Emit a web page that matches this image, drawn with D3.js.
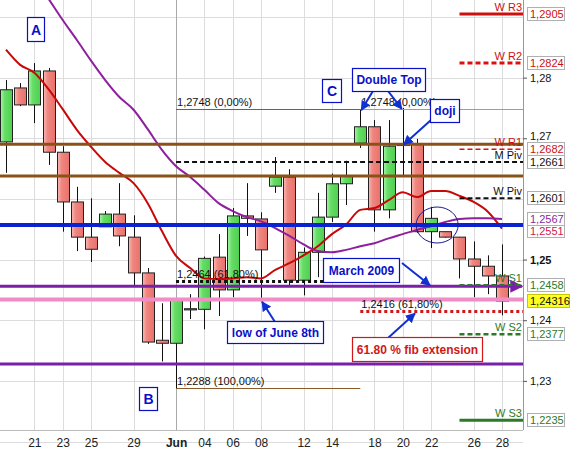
<!DOCTYPE html>
<html><head><meta charset="utf-8">
<script src="https://cdn.jsdelivr.net/npm/d3@7"></script>
<style>
html,body{margin:0;padding:0;background:#fff;}
svg{display:block;font-family:"Liberation Sans",Arial,sans-serif;}
</style></head>
<body><svg id="c" width="571" height="449"></svg>
<script>
// ---------- DATA ----------
const dates = ["2012-05-18","2012-05-20","2012-05-21","2012-05-22","2012-05-23","2012-05-24","2012-05-25","2012-05-27","2012-05-28","2012-05-29","2012-05-30","2012-05-31","2012-06-01","2012-06-03","2012-06-04","2012-06-05","2012-06-06","2012-06-07","2012-06-08","2012-06-10","2012-06-11","2012-06-12","2012-06-13","2012-06-14","2012-06-15","2012-06-17","2012-06-18","2012-06-19","2012-06-20","2012-06-21","2012-06-22","2012-06-24","2012-06-25","2012-06-26","2012-06-27","2012-06-28"];
const opens  = [1.2694,1.2783,1.2755,1.2811,1.2677,1.2595,1.2537,1.2554,1.2575,1.2537,1.2478,1.2367,1.2362,1.2417,1.2418,1.2504,1.2450,1.2572,1.2567,1.2621,1.2636,1.2466,1.2512,1.2570,1.2625,1.2692,1.2719,1.2582,1.2690,1.2690,1.2546,1.2546,1.2537,1.2501,1.2489,1.2473];
const highs  = [1.2796,1.2791,1.2824,1.2816,1.2687,1.2620,1.2601,1.2580,1.2626,1.2573,1.2486,1.2428,1.2436,1.2443,1.2505,1.2542,1.2585,1.2626,1.2578,1.2669,1.2649,1.2520,1.2610,1.2642,1.2663,1.2748,1.2730,1.2730,1.2750,1.2699,1.2587,1.2546,1.2537,1.2530,1.2507,1.2525];
const lows   = [1.2643,1.2753,1.2725,1.2656,1.2546,1.2514,1.2496,1.2554,1.2522,1.2458,1.2361,1.2332,1.2288,1.2402,1.2385,1.2407,1.2438,1.2539,1.2432,1.2610,1.2458,1.2441,1.2471,1.2562,1.2590,1.2684,1.2546,1.2568,1.2639,1.2544,1.2519,1.2536,1.2469,1.2438,1.2443,1.2408];
const closes = [1.2780,1.2755,1.2811,1.2677,1.2595,1.2537,1.2517,1.2575,1.2539,1.2478,1.2364,1.2362,1.2433,1.2419,1.2502,1.2450,1.2572,1.2568,1.2516,1.2636,1.2466,1.2512,1.2570,1.2625,1.2638,1.2719,1.2582,1.2687,1.2688,1.2546,1.2568,1.2537,1.2501,1.2489,1.2473,1.24316];
const maRed    = [1.2846,1.2821,1.2808,1.2781,1.2748,1.2714,1.2686,1.2661,1.2643,1.2626,1.2593,1.2547,1.2506,1.2486,1.2469,1.2468,1.2469,1.2471,1.2469,1.2483,1.2494,1.2507,1.2522,1.2542,1.2558,1.2582,1.2585,1.2598,1.2611,1.2603,1.2613,1.2613,1.2605,1.2595,1.2579,1.2551];
const maPurple = [1.3037,1.3002,1.2964,1.2930,1.2895,1.2862,1.2828,1.2796,1.2768,1.2747,1.2715,1.2681,1.2654,1.2636,1.2615,1.2593,1.2580,1.2570,1.2563,1.2552,1.2539,1.2525,1.2514,1.2512,1.2516,1.2522,1.2527,1.2535,1.2542,1.2549,1.2555,1.2562,1.2567,1.2568,1.2568,1.2567];
const tickDates  = ["2012-05-21","2012-05-23","2012-05-25","2012-05-29","2012-06-01","2012-06-04","2012-06-06","2012-06-08","2012-06-12","2012-06-14","2012-06-18","2012-06-20","2012-06-22","2012-06-26","2012-06-28"];
const tickLabels = ["21","23","25","29","Jun","04","06","08","12","14","18","20","22","26","28"];
const yTicks = [1.23,1.24,1.25,1.27,1.28];
const yGrid  = [1.22,1.23,1.24,1.25,1.26,1.27,1.28,1.29];
// horizontal drawn levels
const levelValues = [1.2690,1.2638,1.2557,1.2434,1.2456,1.2328];
const levelColors = ["#8a5218","#8a5218","#0a22d0","#f08cc6","#7a1fa8","#7a1fa8"];
// pivots
const pivotNames  = ["W R3","W R2","W R1","M Piv","W Piv","W S1","W S2","W S3"];
const pivotValues = [1.2905,1.2824,1.2682,1.2661,1.2601,1.2458,1.2377,1.2235];
// fibonacci tools
const fib1Levels = [1.2748,1.2464,1.2288];
const fib1Labels = ["1,2748 (0,00%)","1,2464 (61,80%)","1,2288 (100,00%)"];
const fib2Levels = [1.2748,1.2416];
const fib2Labels = ["1,2748 (0,00%)","1,2416 (61,80%)"];
// right price tags
const tagValues = [1.2905,1.2824,1.2682,1.2661,1.2601,1.2551,1.2567,1.2458,1.24316,1.2377,1.2235];
const tagTexts  = ["1,2905","1,2824","1,2682","1,2661","1,2601","1,2551","1,2567","1,2458","1,24316","1,2377","1,2235"];

// ---------- SETUP ----------
const svg = d3.select("#c");
const plotR = 523, plotB = 430;
const x = d3.scalePoint().domain(dates).range([6, 502]);
const y = d3.scaleLinear().domain([1.2219, 1.2928]).range([plotB, 0]);
const candles = dates.map((d,i)=>({d, o:opens[i], h:highs[i], l:lows[i], c:closes[i]}));

const defs = svg.append("defs");
defs.append("clipPath").attr("id","clip").append("rect").attr("x",0).attr("y",0).attr("width",plotR).attr("height",plotB);
function grad(id, c1, c2, c3){
  const g = defs.append("linearGradient").attr("id",id).attr("x1",0).attr("x2",1).attr("y1",0).attr("y2",0);
  g.append("stop").attr("offset","0%").attr("stop-color",c1);
  g.append("stop").attr("offset","35%").attr("stop-color",c2);
  g.append("stop").attr("offset","100%").attr("stop-color",c3);
}
grad("gUp","#a8f5a8","#66dd66","#4fcf4f");
grad("gDn","#f9b8b4","#f08680","#e8716c");
function marker(id, color, size){
  defs.append("marker").attr("id",id).attr("viewBox","0 0 10 10").attr("refX",9).attr("refY",5)
    .attr("markerWidth",size).attr("markerHeight",size).attr("markerUnits","userSpaceOnUse").attr("orient","auto")
    .append("path").attr("d","M0,0L10,5L0,10Z").attr("fill",color);
}
marker("ahBlue","#1030d0",10);
marker("ahPurple","#7a1fa8",13);

svg.append("rect").attr("width",571).attr("height",449).attr("fill","#fff");

// grid
const grid = svg.append("g");
grid.selectAll("line.h").data(yGrid).join("line").attr("x1",0).attr("x2",plotR)
  .attr("y1",d=>Math.round(y(d))+0.5).attr("y2",d=>Math.round(y(d))+0.5).attr("stroke","#dcdcdc");
grid.selectAll("line.v").data(tickDates).join("line")
  .attr("x1",d=>Math.round(x(d))+0.5).attr("x2",d=>Math.round(x(d))+0.5).attr("y1",0).attr("y2",plotB)
  .attr("stroke",(d,i)=>tickLabels[i]==="Jun"?"#a8a8a8":"#dcdcdc");

const plot = svg.append("g").attr("clip-path","url(#clip)");

// candles
const cw = 12;
const cg = plot.append("g");
cg.selectAll("line").data(candles).join("line")
  .attr("x1",d=>Math.round(x(d.d))+0.5).attr("x2",d=>Math.round(x(d.d))+0.5)
  .attr("y1",d=>y(d.h)).attr("y2",d=>y(d.l)).attr("stroke","#111").attr("stroke-width",1);
cg.selectAll("rect").data(candles).join("rect")
  .attr("x",d=>Math.round(x(d.d))-cw/2+0.5).attr("width",cw)
  .attr("y",d=>y(Math.max(d.o,d.c))).attr("height",d=>Math.max(1,Math.abs(y(d.o)-y(d.c))))
  .attr("fill",d=>d.c>=d.o?"url(#gUp)":"url(#gDn)").attr("stroke","#222").attr("stroke-width",1);

// moving averages
const lineGen = d3.line().x((v,i)=>x(dates[i])).y(v=>y(v)).curve(d3.curveMonotoneX);
plot.append("path").attr("d",lineGen(maRed)).attr("fill","none").attr("stroke","#c80808").attr("stroke-width",2);
plot.append("path").attr("d",lineGen(maPurple)).attr("fill","none").attr("stroke","#8e1f9e").attr("stroke-width",2);

// horizontal levels
const lw = [3,3,4,4,3,3];
levelValues.forEach((v,i)=>{
  const ln = plot.append("line").attr("x1",0).attr("x2",i===4?plotR-1:plotR).attr("y1",y(v)).attr("y2",y(v))
    .attr("stroke",levelColors[i]).attr("stroke-width",lw[i]);
  if(i===4) ln.attr("marker-end","url(#ahPurple)");
});

// fib tools
const fibStart1 = x("2012-06-01"), fibEnd1 = x("2012-06-17"), fibStart2 = x("2012-06-17");
const fibStyles1 = [{c:"#8a5a28",w:1,da:null},{c:"#111",w:3,da:"3,3"},{c:"#8a5a28",w:1,da:null}];
fib1Levels.forEach((v,i)=>{
  plot.append("line").attr("x1",fibStart1).attr("x2",fibEnd1).attr("y1",Math.round(y(v))+0.5).attr("y2",Math.round(y(v))+0.5)
    .attr("stroke",fibStyles1[i].c).attr("stroke-width",fibStyles1[i].w).attr("stroke-dasharray",fibStyles1[i].da);
  plot.append("text").attr("x",fibStart1+1).attr("y",y(v)-3).attr("font-size",11).attr("fill","#111").text(fib1Labels[i]);
});
const fibStyles2 = [{c:"#d88a60",w:1,da:null},{c:"#d01818",w:3,da:"3,3"}];
fib2Levels.forEach((v,i)=>{
  plot.append("line").attr("x1",fibStart2).attr("x2",plotR).attr("y1",Math.round(y(v))+0.5).attr("y2",Math.round(y(v))+0.5)
    .attr("stroke",fibStyles2[i].c).attr("stroke-width",fibStyles2[i].w).attr("stroke-dasharray",fibStyles2[i].da);
  plot.append("text").attr("x",fibStart2+1).attr("y",y(v)-3).attr("font-size",11).attr("fill","#111").text(fib2Labels[i]);
});

// pivots
const wkStart = x("2012-06-25"), moStart = x("2012-06-01");
const pivStyle = [
  {c:"#cc1010",w:3,da:null},{c:"#dd1010",w:3,da:"5,3"},{c:"#dd1010",w:1.5,da:"5,3"},
  {c:"#111",w:2,da:"5,3"},{c:"#111",w:2,da:"5,3"},
  {c:"#2a7a2a",w:2,da:"5,3"},{c:"#2a7a2a",w:2.5,da:"5,3"},{c:"#2a7a2a",w:3,da:null}];
const pivTextColor = ["#cc1010","#cc1010","#cc1010","#111","#111","#2a7a2a","#2a7a2a","#2a7a2a"];
pivotValues.forEach((v,i)=>{
  const s = pivStyle[i];
  plot.append("line").attr("x1",i===3?moStart:wkStart).attr("x2",plotR).attr("y1",y(v)).attr("y2",y(v))
    .attr("stroke",s.c).attr("stroke-width",s.w).attr("stroke-dasharray",s.da);
  plot.append("text").attr("x",522).attr("y",y(v)-3).attr("text-anchor","end").attr("font-size",11)
    .attr("fill",pivTextColor[i]).text(pivotNames[i]);
});

// circle
plot.append("ellipse").attr("cx",x("2012-06-22")+6).attr("cy",y(1.2557)).attr("rx",21).attr("ry",18)
  .attr("fill","none").attr("stroke","#1a1a90").attr("stroke-width",1);

// annotations (boxes)
const ann = svg.append("g");
function box(bx,by,bw,bh,txt,color,fs){
  ann.append("rect").attr("x",bx+0.5).attr("y",by+0.5).attr("width",bw).attr("height",bh).attr("fill","#fff")
    .attr("stroke",color).attr("stroke-width",1.2);
  ann.append("text").attr("x",bx+bw/2+0.5).attr("y",by+bh/2+0.5).attr("dy","0.36em").attr("text-anchor","middle")
    .attr("font-size",fs).attr("font-weight","bold").attr("fill",color).text(txt);
}
function arrow(x1,y1,x2,y2){
  ann.append("line").attr("x1",x1).attr("y1",y1).attr("x2",x2).attr("y2",y2).attr("stroke","#1030d0")
    .attr("stroke-width",2).attr("marker-end","url(#ahBlue)");
}
const blue = "#0a10c8";
box(27,17,17,24,"A",blue,14);
box(139,387,18,23,"B",blue,14);
box(322,79,19,23,"C",blue,14);
arrow(373,91,x("2012-06-17")+1,y(1.2748)+1);
arrow(388,91,x("2012-06-20")-1,y(1.2750)+1);
box(352,68,73,23,"Double Top",blue,12);
arrow(431,120,x("2012-06-20")+1,y(1.2688)-1);
box(430,99,29,23,"doji",blue,12);
arrow(402,263,430,y(1.2456)-1);
box(323,258,76,24,"March 2009",blue,12);
arrow(275,322,x("2012-06-08")+1,y(1.2432)+1);
box(227,321,96,22,"low of June 8th",blue,12);
arrow(388,338,415,y(1.2416)+3);
box(352,337,130,24,"61.80 % fib extension","#d01818",12);

// axes frame
svg.append("line").attr("x1",plotR+0.5).attr("x2",plotR+0.5).attr("y1",0).attr("y2",plotB).attr("stroke","#999");
svg.append("line").attr("x1",0).attr("x2",plotR).attr("y1",plotB+0.5).attr("y2",plotB+0.5).attr("stroke","#bbb");

// right axis
const ra = svg.append("g").attr("transform",`translate(${plotR},0)`)
  .call(d3.axisRight(y).tickValues(yTicks).tickSize(4).tickPadding(3).tickFormat(d=>d.toFixed(2).replace(".",",")));
ra.select(".domain").remove();
ra.selectAll("text").attr("font-size",11).attr("font-family","Liberation Sans, Arial, sans-serif").attr("fill","#111")
  .attr("dy",d=>d===1.27?"0.1em":"0.32em")
  .attr("font-weight",d=>d===1.25?"bold":"normal");
ra.selectAll("line").attr("stroke","#555");

// bottom axis
const ba = svg.append("g").attr("transform",`translate(0,${plotB})`)
  .call(d3.axisBottom(x).tickValues(tickDates).tickSize(0).tickPadding(8).tickFormat((d,i)=>tickLabels[i]));
ba.select(".domain").remove();
ba.selectAll("text").attr("font-size",12).attr("font-family","Liberation Sans, Arial, sans-serif").attr("fill","#222")
  .attr("font-weight",(d,i)=>tickLabels[i]==="Jun"?"bold":"normal");

// price tags
const tagColors = ["#cc1010","#cc1010","#cc1010","#111","#111","#d02050","#8a2aa0","#2a7a2a","#111","#2a7a2a","#2a7a2a"];
const tagShift  = [0,0,0,0,0,2,0,0,0,0,0];
const tags = svg.append("g");
tagValues.forEach((v,i)=>{
  const cur = tagTexts[i]==="1,24316";
  const w = cur?42:37;
  const cy = Math.round(y(v))+tagShift[i];
  tags.append("rect").attr("x",527.5).attr("y",cy-6.5).attr("width",w).attr("height",13)
    .attr("fill",cur?"#ffff20":"#fff").attr("stroke",cur?"#c8c800":"#b0b0b0");
  tags.append("text").attr("x",530).attr("y",cy).attr("dy","0.36em").attr("font-size",11)
    .attr("fill",tagColors[i]).text(tagTexts[i]);
});
</script>
</body></html>
